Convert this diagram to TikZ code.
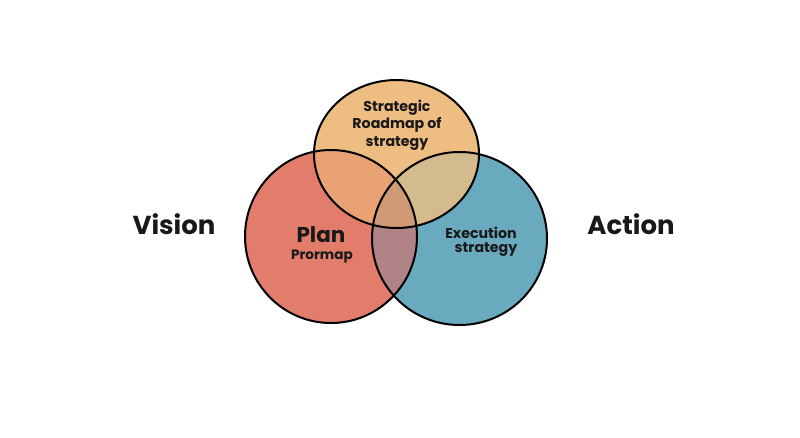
\documentclass[tikz,border=0pt]{standalone}
\usepackage{fontspec}
\setmainfont{Poppins}
\definecolor{cT}{HTML}{EDBD82}
\definecolor{cL}{HTML}{E27D6C}
\definecolor{cR}{HTML}{6AAABF}
\definecolor{cTL}{HTML}{E9A273}
\definecolor{cTR}{HTML}{D4BB8E}
\definecolor{cLR}{HTML}{B08487}
\definecolor{cC}{HTML}{CF9A75}
\def\pT{(396.5,154) ellipse [x radius=82.5, y radius=74]}
\def\pL{(331,236.5) ellipse [x radius=86, y radius=86.5]}
\def\pR{(459.5,238.5) ellipse [x radius=87.5, y radius=86.5]}
\tikzset{
  ring/.style={draw=black, line width=2pt},
  big/.style={font=\bfseries\fontsize{26}{30}\selectfont, text=black!90},
  small/.style={font=\bfseries\fontsize{14.2}{17.5}\selectfont, align=center, text=black!90, inner sep=0pt},
}
\begin{document}
\begin{tikzpicture}[x=1pt,y=-1pt]
\useasboundingbox[fill=white] (0,0) rectangle (800,437);
\fill[cT] \pT; \fill[cL] \pL; \fill[cR] \pR;
\begin{scope}\clip \pT; \fill[cTL] \pL; \fill[cTR] \pR; \end{scope}
\begin{scope}\clip \pL; \fill[cLR] \pR; \end{scope}
\begin{scope}\clip \pT; \clip \pL; \fill[cC] \pR; \end{scope}
\draw[ring] \pT; \draw[ring] \pL; \draw[ring] \pR;
\node[big] (vision) at (174,224) {Vision};
\node[big] (action) at (631,224) {Action};
\node[small] (top) at (397,125) {Strategic\\Roadmap of\\strategy};
\node[font=\bfseries\fontsize{21.5}{25}\selectfont, text=black!90, inner sep=0pt, anchor=base] (plan) at (321,242) {Plan};
\node[small, font=\bfseries\fontsize{13.6}{17}\selectfont, anchor=base] (prormap) at (322,259.5) {Prormap};
\node[small] (exec) at (481,233) {Execution};
\node[small] (exec2) at (486,250) {strategy};
\end{tikzpicture}
\end{document}
